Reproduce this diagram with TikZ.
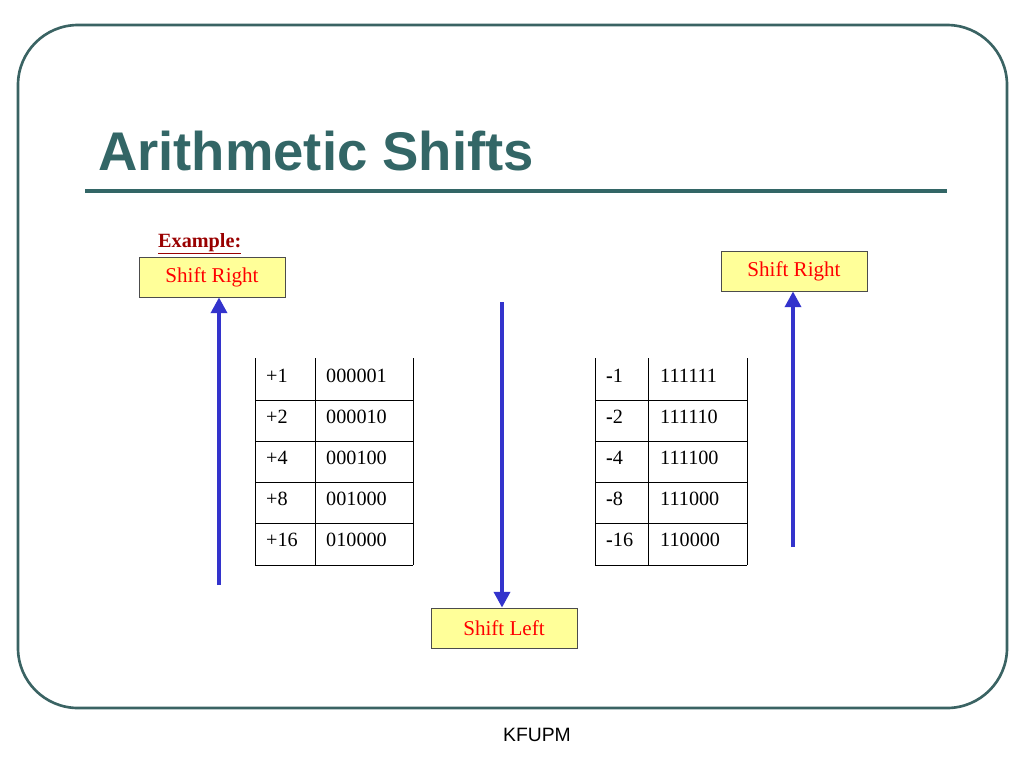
\documentclass[tikz,border=0pt]{standalone}
\usepackage{fontspec}
\setmainfont{Liberation Serif}
\setsansfont{Liberation Sans}
\usetikzlibrary{positioning,arrows.meta}
\definecolor{teal1}{HTML}{336666}
\definecolor{frame1}{HTML}{3A6363}
\definecolor{arrowblue}{HTML}{3333CC}
\definecolor{boxyellow}{HTML}{FFFF99}
\definecolor{exred}{HTML}{990000}
\tikzset{%
  label box/.style = {draw=black!70, fill=boxyellow, minimum width=2.92cm,
    minimum height=0.8cm, text=red, font=\fontsize{12}{14}\selectfont},
  cell/.style      = {anchor=west, font=\fontsize{11.5}{13}\selectfont},
  shift arrow/.style = {draw=arrowblue, line width=2.6pt,
    -{Triangle[length=9pt,width=9pt]}}
}
\begin{document}
\begin{tikzpicture}[x=0.02cm, y=-0.02cm]
  \useasboundingbox (0,0) rectangle (1024,768);
  % frame and title
  \draw[frame1, line width=1.5pt, rounded corners=1.2cm] (18,25) rectangle (1007,708);
  \node[anchor=base west, text=teal1, font=\sffamily\bfseries\fontsize{31}{36}\selectfont]
    (title) at (92,170) {Arithmetic Shifts};
  \draw[teal1, line width=2pt] (85,191) -- (947,191);
  \node[anchor=base west, text=exred, font=\bfseries\fontsize{11.5}{13}\selectfont]
    (example) at (152,247) {\underline{Example:}};
  % label boxes
  \node[label box] (sr1) at (212,277) {Shift Right};
  \node[label box] (sr2) at (794,271) {Shift Right};
  \node[label box] (sl) at (504,628) {Shift Left};
  % arrows
  \coordinate (a1) at (219,585);
  \coordinate (a2) at (502,302);
  \coordinate (a3) at (793,547);
  \draw[shift arrow] (a1) -- (sr1.south -| a1);
  \draw[shift arrow] (a2) -- (sl.north -| a2);
  \draw[shift arrow] (a3) -- (sr2.south -| a3);
  % left table
  \foreach \y in {400,441,482,523,565} \draw (255,\y) -- (413,\y);
  \foreach \x in {255,315,413} \draw (\x,358) -- (\x,565);
  \foreach \v/\b [count=\i] in {1/000001,2/000010,4/000100,8/001000,16/010000} {
    \node[cell] (lv\i) at (260,335+41*\i) {+\v};
    \node[cell] (lb\i) at (320,335+41*\i) {\b};
  }
  % right table
  \foreach \y in {400,441,482,523,565} \draw (595,\y) -- (747,\y);
  \foreach \x in {595,648,747} \draw (\x,358) -- (\x,565);
  \foreach \v/\b [count=\i] in {1/111111,2/111110,4/111100,8/111000,16/110000} {
    \node[cell] (rv\i) at (600,335+41*\i) {\textbf{-}\v};
    \node[cell] (rb\i) at (654,335+41*\i) {\b};
  }
  \node[font=\sffamily\fontsize{11}{13}\selectfont] (footer) at (537,735) {KFUPM};
\end{tikzpicture}
\end{document}
